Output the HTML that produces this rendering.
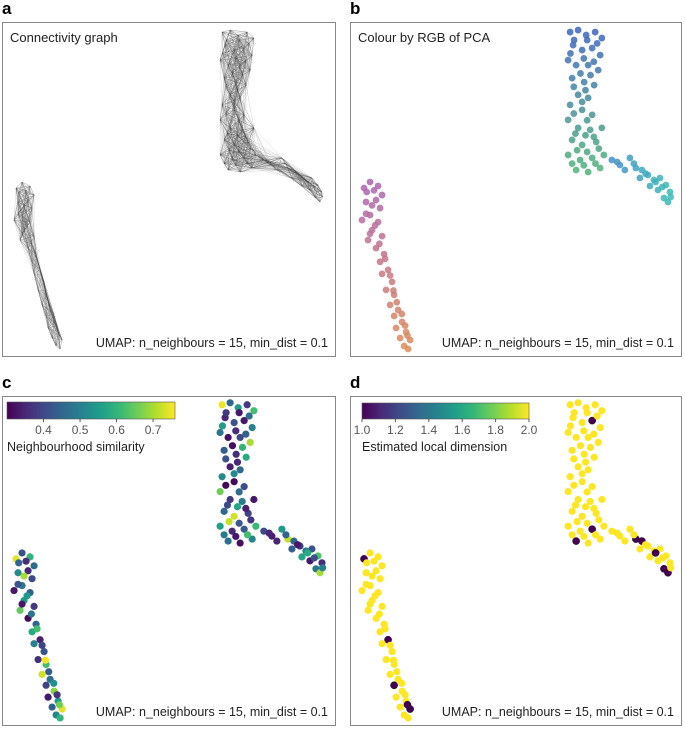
<!DOCTYPE html>
<html><head><meta charset="utf-8"><style>
body{margin:0;background:#fff;font-family:"Liberation Sans",sans-serif;}
svg{display:block}
</style></head><body>
<svg id="fig" width="685" height="731" font-family="Liberation Sans, sans-serif"></svg>
<script>
// UMAP embedding coordinates (arbitrary units, 0-10 range)
const umapX=[6.59,6.83,7.07,7.34,7.54,6.68,6.95,7.25,7.49,6.53,6.77,7.13,7.43,6.65,7.01,7.31,6.83,7.13,6.59,6.95,7.25,6.53,6.83,7.19,7.54,6.65,6.95,7.37,6.53,6.89,7.25,7.60,6.77,7.13,7.49,
7.84,8.08,8.38,8.56,8.74,8.92,9.10,9.28,9.46,9.58,9.40,9.22,8.98,8.68,8.23,9.52,
0.42,0.60,0.84,0.96,0.78,0.48,0.90,0.60,0.36,0.84,0.66,0.96,0.54,0.78,1.02,0.90,1.14,0.96,1.26,1.08,1.32,1.20,1.44,1.32,1.56,1.38,1.68,1.50,1.80,1.62,1.74,
6.71,7.10,7.40,6.60,7.00,7.30,6.90,7.20,6.70,7.05,6.95,6.70,7.10,6.75,7.05,7.30,6.80,7.10,7.45,6.65,7.00,7.35,
8.00,8.50,8.85,9.15,9.35,9.60,
0.50,0.72,0.66,0.48,0.75,0.60,0.88,1.05,1.20,1.30,1.40,1.55,1.65,1.72];
const umapY=[9.34,9.40,9.25,9.34,9.16,8.95,8.80,8.86,8.65,8.50,8.35,8.35,8.20,7.96,7.84,7.75,7.46,7.37,7.16,7.01,6.86,6.71,6.47,6.41,6.47,6.11,5.96,6.05,5.66,5.51,5.57,5.66,5.21,5.15,5.27,
5.51,5.36,5.57,5.27,5.21,5.06,4.91,4.97,4.76,4.55,4.37,4.61,4.73,4.97,5.21,4.25,
4.67,4.85,4.73,4.46,4.31,4.25,4.07,3.86,3.71,3.65,3.41,3.23,3.11,2.87,2.69,2.46,2.22,2.10,1.86,1.62,1.47,1.17,1.02,0.84,0.66,0.48,0.36,0.18,0.12,-0.06,-0.15,
9.10,9.10,9.00,8.70,8.55,8.45,8.10,8.05,7.70,7.60,7.25,6.90,6.70,6.30,6.25,6.20,5.80,5.75,5.85,5.40,5.35,5.40,
5.45,5.40,5.10,4.85,4.70,4.40,
4.55,4.60,4.15,3.90,3.55,3.30,3.00,2.55,2.05,1.60,1.25,0.90,0.55,0.25];
// neighbourhood similarity (panel c)
const simValues=[0.75,0.45,0.55,0.38,0.62,0.35,0.42,0.33,0.50,0.48,0.32,0.40,0.70,0.44,0.36,0.58,0.34,0.46,0.52,0.31,0.41,0.66,0.37,0.49,0.33,0.45,0.73,0.39,0.56,0.35,0.43,0.61,0.47,0.32,0.51,
0.40,0.34,0.55,0.72,0.45,0.38,0.50,0.42,0.63,0.36,0.48,0.33,0.57,0.44,0.35,0.70,
0.74,0.42,0.60,0.46,0.35,0.52,0.40,0.48,0.33,0.44,0.56,0.38,0.65,0.31,0.45,0.58,0.34,0.50,0.42,0.36,0.62,0.73,0.47,0.39,0.68,0.33,0.55,0.44,0.74,0.51,0.60,
0.38,0.33,0.47,0.55,0.36,0.44,0.32,0.60,0.42,0.35,0.52,0.31,0.46,0.40,0.57,0.34,0.72,0.43,0.37,0.49,0.33,0.62,
0.35,0.45,0.33,0.58,0.41,0.50,
0.45,0.36,0.70,0.42,0.55,0.33,0.48,0.62,0.39,0.75,0.44,0.53,0.37,0.66];
// estimated local dimension (panel d)
const dimValues=[2,2,2,2,2,2,2,1,2,2,2,2,2,2,2,2,2,2,2,2,2,2,2,2,2,2,2,2,2,2,1,2,1,2,2,
2,2,2,1,1,2,2,2,2,2,1,2,2,2,2,1,
1,2,2,2,2,2,2,2,2,2,2,2,2,2,2,2,1,2,2,2,2,2,2,1,2,2,2,2,1,2,2,
2,2,2,2,2,2,2,2,2,2,2,2,2,2,2,2,2,2,2,2,2,2,
2,2,2,1,2,2,
2,2,2,2,2,2,2,2,2,2,2,2,2,1];
const simTicks=[0.4,0.5,0.6,0.7];
const dimTicks=[1.0,1.2,1.4,1.6,1.8,2.0];

const NS="http://www.w3.org/2000/svg";
const svg=document.getElementById('fig');
function mk(tag,attrs,parent){const e=document.createElementNS(NS,tag);for(const k in attrs)e.setAttribute(k,attrs[k]);(parent||svg).appendChild(e);return e;}
const VIR=[[68,1,84],[72,40,120],[62,74,137],[49,104,142],[38,130,142],[31,158,137],[53,183,121],[109,205,89],[180,222,44],[253,231,37]];
function viridis(t){t=Math.max(0,Math.min(1,t));const p=t*(VIR.length-1),i=Math.min(VIR.length-2,Math.floor(p)),f=p-i;const c=VIR[i].map((v,k)=>Math.round(v+(VIR[i+1][k]-v)*f));return `rgb(${c})`;}
function pcaColor(i){const x=umapX[i],y=umapY[i];
 if(x<3){const t=(4.9-y)/5;return `rgb(${Math.round(170+50*t)},${Math.round(100+40*t)},${Math.round(180-90*t)})`;}
 if(y<5.6&&x>7.7){const t=(x-7.7)/2;return `rgb(${Math.round(70-10*t)},${Math.round(140+50*t)},${Math.round(200-20*t)})`;}
 const t=(9.4-y)/4.3;return `rgb(${Math.round(60+20*t)},${Math.round(100+80*t)},${Math.round(190-70*t)})`;}

const panels=[
 {id:'a',L:2,T:22,W:334,H:335,title:'Connectivity graph'},
 {id:'b',L:350,T:22,W:332,H:335,title:'Colour by RGB of PCA'},
 {id:'c',L:2,T:396,W:334,H:330},
 {id:'d',L:350,T:396,W:332,H:330}];
panels.forEach(p=>{
 const g=mk('g',{});
 
 
 const lab=mk('text',{x:p.L,y:p.T-8,'font-size':17,'font-weight':'bold',fill:'#000'},g);lab.textContent=p.id;
 
 
 const box=mk('rect',{x:p.L+0.5,y:p.T+0.5,width:p.W-1,height:p.H-1,fill:'#fff',stroke:'#888','stroke-width':1},g);
 
 
 const sx=v=>p.L+v*33.4, sy=v=>p.T+(p.id<'c'?335:330)-8-v*(p.id<'c'?33.4:33.0)-5;
 if(p.title){const t=mk('text',{x:p.L+8,y:p.T+20,'font-size':13,fill:'#222'},g);t.textContent=p.title;
  
  }
 const n=umapX.length;
 if(p.id==='a'){
  for(let i=0;i<n;i++)for(let j=i+1;j<n;j++){const dx=umapX[i]-umapX[j],dy=umapY[i]-umapY[j];const d=Math.hypot(dx,dy);
   if(d<1.4&&((umapX[i]<3)===(umapX[j]<3))){const l=mk('line',{x1:sx(umapX[i]),y1:sy(umapY[i]),x2:sx(umapX[j]),y2:sy(umapY[j]),stroke:'#444','stroke-width':0.5,'stroke-opacity':d<0.6?0.5:0.22},g);
    
    }}
 } else {
  for(let i=0;i<n;i++){let fill;
   if(p.id==='b')fill=pcaColor(i);else if(p.id==='c')fill=viridis((simValues[i]-0.3)/0.46);else fill=viridis(dimValues[i]-1);
   const c=mk('circle',{cx:sx(umapX[i]),cy:sy(umapY[i]),r:p.id==='b'?3.4:3.6,fill:fill,'fill-opacity':p.id==='b'?0.85:1,stroke:p.id==='d'&&dimValues[i]===1?'#000':'none','stroke-width':0.4},g);
   
   }
 }
 const u=mk('text',{x:p.L+p.W-8,y:p.T+p.H-10,'font-size':12.5,'text-anchor':'end',fill:'#222'},g);
 u.textContent='UMAP: n_neighbours = 15, min_dist = 0.1';
 
 
});
function colorbar(id,x0,y0,w,h,vmin,vmax,ticks,label,dec){
 const g=mk('g',{});
 
 
 const gr=mk('linearGradient',{id:'vg'+id,x1:0,x2:1,y1:0,y2:0},mk('defs',{},g));
 for(let k=0;k<=9;k++)mk('stop',{offset:k/9,'stop-color':viridis(k/9)},gr);
 mk('rect',{x:x0,y:y0,width:w,height:h,fill:`url(#vg${id})`,stroke:'#555','stroke-width':0.6},g);
 ticks.forEach(t=>{const x=x0+(t-vmin)/(vmax-vmin)*w;mk('line',{x1:x,x2:x,y1:y0+h,y2:y0+h+3,stroke:'#555'},g);
  const tx=mk('text',{x:x,y:y0+h+15,'font-size':12,'text-anchor':'middle',fill:'#555'},g);tx.textContent=t.toFixed(dec);
  
  });
 const l=mk('text',{x:x0,y:y0+h+32,'font-size':12.5,fill:'#222'},g);l.textContent=label;
 
 
}
colorbar('c',7,402,168,17,0.3,0.76,simTicks,'Neighbourhood similarity',1);
colorbar('d',362,403,167,16,1.0,2.0,dimTicks,'Estimated local dimension',1);
</script>
</body></html>
